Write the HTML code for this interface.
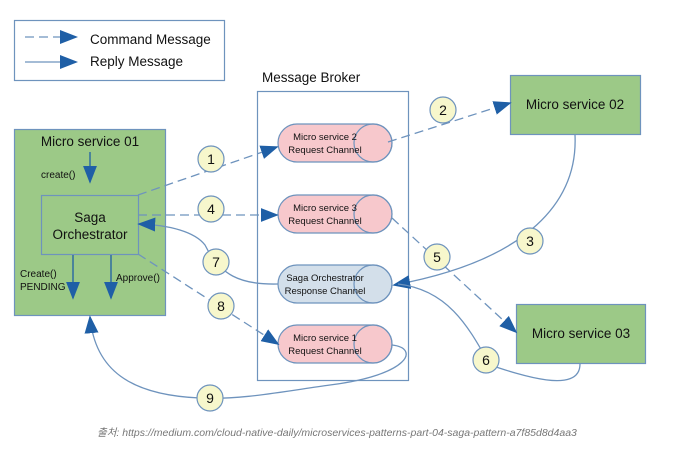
<!DOCTYPE html>
<html><head><meta charset="utf-8"><style>
html,body{margin:0;padding:0;background:#fff;width:675px;height:457px;overflow:hidden}
svg text{font-family:"Liberation Sans",sans-serif;fill:#111}
</style></head><body>
<svg width="675" height="457" viewBox="0 0 675 457" xmlns="http://www.w3.org/2000/svg">
<defs>
<marker id="a" viewBox="0 0 10 10" refX="9" refY="5" markerWidth="18" markerHeight="14" orient="auto" markerUnits="userSpaceOnUse" preserveAspectRatio="none"><path d="M0,0 L10,5 L0,10 z" fill="#1f5fa6"/></marker>
</defs>
<rect x="0" y="0" width="675" height="418" fill="#fff"/>
<rect x="14.5" y="20.5" width="210" height="60" fill="#fff" stroke="#6e93bd" stroke-width="1.2"/>
<line x1="25" y1="37" x2="62" y2="37" stroke="#6e93bd" stroke-width="1.3" stroke-dasharray="9,5"/>
<path d="M60,30 L78,37 L60,44z" fill="#1f5fa6"/>
<line x1="25" y1="62" x2="62" y2="62" stroke="#6e93bd" stroke-width="1.3"/>
<path d="M60,55 L78,62 L60,69z" fill="#1f5fa6"/>
<text x="90" y="44" font-size="13.5">Command Message</text>
<text x="90" y="66" font-size="13.5">Reply Message</text>
<text x="262" y="82" font-size="13.5">Message Broker</text>
<rect x="14.5" y="129.5" width="151" height="186" fill="#9cc987" stroke="#6e93bd" stroke-width="1.2"/>
<text x="90" y="146" font-size="13.5" text-anchor="middle">Micro service 01</text>
<text x="41" y="178" font-size="10">create()</text>
<line x1="90" y1="152" x2="90" y2="182" stroke="#1f5fa6" stroke-width="1.3" marker-end="url(#a)"/>
<rect x="41.5" y="195.5" width="97" height="59" fill="#9cc987" stroke="#6e93bd" stroke-width="1.2"/>
<text x="90" y="222" font-size="13.5" text-anchor="middle">Saga</text>
<text x="90" y="239" font-size="13.5" text-anchor="middle">Orchestrator</text>
<line x1="73" y1="255" x2="73" y2="298" stroke="#1f5fa6" stroke-width="1.3" marker-end="url(#a)"/>
<line x1="111" y1="255" x2="111" y2="298" stroke="#1f5fa6" stroke-width="1.3" marker-end="url(#a)"/>
<text x="20" y="277" font-size="10">Create()</text>
<text x="20" y="290" font-size="10">PENDING</text>
<text x="116" y="281" font-size="10">Approve()</text>
<rect x="257.5" y="91.5" width="151" height="289" fill="#fff" stroke="#6e93bd" stroke-width="1.2"/>
<g stroke="#6e93bd" stroke-width="1.2">
<path d="M297,124 H373 A19,19 0 0 1 373,162 H297 A19,19 0 0 1 297,124z" fill="#f7c8cc"/>
<circle cx="373" cy="143" r="19" fill="none"/>
<path d="M297,195 H373 A19,19 0 0 1 373,233 H297 A19,19 0 0 1 297,195z" fill="#f7c8cc"/>
<circle cx="373" cy="214" r="19" fill="none"/>
<path d="M297,265 H373 A19,19 0 0 1 373,303 H297 A19,19 0 0 1 297,265z" fill="#d3dfea"/>
<circle cx="373" cy="284" r="19" fill="none"/>
<path d="M297,325 H373 A19,19 0 0 1 373,363 H297 A19,19 0 0 1 297,325z" fill="#f7c8cc"/>
<circle cx="373" cy="344" r="19" fill="none"/>
</g>
<g font-size="9.5" text-anchor="middle">
<text x="325" y="140">Micro service 2</text><text x="325" y="153">Request Channel</text>
<text x="325" y="211">Micro service 3</text><text x="325" y="224">Request Channel</text>
<text x="325" y="281">Saga Orchestrator</text><text x="325" y="294">Response Channel</text>
<text x="325" y="341">Micro service 1</text><text x="325" y="354">Request Channel</text>
</g>
<rect x="510.5" y="75.5" width="130" height="59" fill="#9cc987" stroke="#6e93bd" stroke-width="1.2"/>
<text x="575" y="109" font-size="13.5" text-anchor="middle">Micro service 02</text>
<rect x="516.5" y="304.5" width="129" height="59" fill="#9cc987" stroke="#6e93bd" stroke-width="1.2"/>
<text x="581" y="338" font-size="13.5" text-anchor="middle">Micro service 03</text>
<g fill="none" stroke="#6e93bd" stroke-width="1.3">
<path d="M138,195 L277,147" stroke-dasharray="9,5" marker-end="url(#a)"/>
<path d="M138,215 L277,215" stroke-dasharray="9,5" marker-end="url(#a)"/>
<path d="M138,254 L278,344" stroke-dasharray="9,5" marker-end="url(#a)"/>
<path d="M388,142 L510,103" stroke-dasharray="9,5" marker-end="url(#a)"/>
<path d="M392,218 L516,332" stroke-dasharray="9,5" marker-end="url(#a)"/>
<path d="M575,135 C578,200 530,260 394,285" marker-end="url(#a)"/>
<path d="M580,364 C580,395 520,375 490,365 C470,330 450,290 398,284"/>
<path d="M278,284 C240,285 220,275 205,245 C195,232 170,225 139,224" marker-end="url(#a)"/>
<path d="M392,345 C420,348 410,375 330,385 C280,392 240,400 200,398 C130,395 95,370 90,317" marker-end="url(#a)"/>
</g>
<g stroke="#6e93bd" stroke-width="1.2" fill="#f7f7cc">
<circle cx="211" cy="159" r="13"/><circle cx="443" cy="110" r="13"/><circle cx="530" cy="241" r="13"/>
<circle cx="211" cy="209" r="13"/><circle cx="437" cy="257" r="13"/><circle cx="486" cy="360" r="13"/>
<circle cx="216" cy="262" r="13"/><circle cx="221" cy="306" r="13"/><circle cx="210" cy="398" r="13"/>
</g>
<g font-size="14" text-anchor="middle">
<text x="211" y="164">1</text><text x="443" y="115">2</text><text x="530" y="246">3</text>
<text x="211" y="214">4</text><text x="437" y="262">5</text><text x="486" y="365">6</text>
<text x="216" y="267">7</text><text x="221" y="311">8</text><text x="210" y="403">9</text>
</g>
<text x="337" y="436" font-size="10.5" text-anchor="middle" font-style="italic" style="fill:#777;font-family:'Liberation Sans','Noto Sans CJK KR',sans-serif">출처: https://medium.com/cloud-native-daily/microservices-patterns-part-04-saga-pattern-a7f85d8d4aa3</text>
</svg>
</body></html>
